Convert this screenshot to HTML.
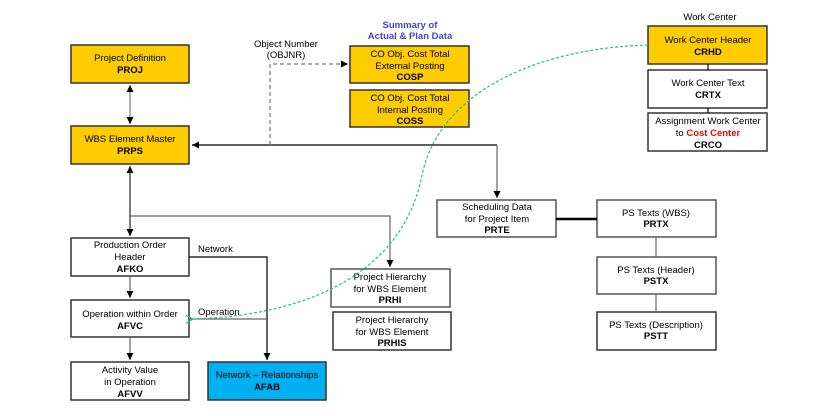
<!DOCTYPE html>
<html><head><style>
body{margin:0;background:#fff;}
svg text{font-family:"Liberation Sans",sans-serif;font-size:9.5px;fill:#000;}
.b{font-weight:bold;}
</style></head><body>
<svg width="818" height="411" viewBox="0 0 818 411" xmlns="http://www.w3.org/2000/svg">
<defs>
<marker id="a" markerWidth="8" markerHeight="8" refX="7" refY="4" orient="auto-start-reverse" markerUnits="userSpaceOnUse"><path d="M0,0.5 L7,4 L0,7.5z" fill="#000"/></marker>
<marker id="g" markerWidth="10" markerHeight="10" refX="1" refY="5" orient="auto" markerUnits="userSpaceOnUse"><path d="M8,1 L1,5 L8,9" fill="none" stroke="#20c090" stroke-width="1.2"/></marker>
</defs>
<g stroke-width="1.5">
<rect x="71" y="45" width="118" height="38" fill="#ffcc00" stroke="#333"/>
<rect x="71" y="126" width="118" height="38" fill="#ffcc00" stroke="#333"/>
<rect x="350" y="46" width="119" height="37" fill="#ffcc00" stroke="#333"/>
<rect x="350" y="90" width="119" height="37" fill="#ffcc00" stroke="#333"/>
<rect x="648" y="26" width="119" height="38" fill="#ffcc00" stroke="#333"/>
<rect x="648" y="70" width="119" height="38" fill="#fff" stroke="#333"/>
<rect x="648" y="113" width="119" height="38" fill="#fff" stroke="#333"/>
<rect x="71" y="238" width="118" height="38" fill="#fff" stroke="#333"/>
<rect x="71" y="300" width="118" height="37" fill="#fff" stroke="#333"/>
<rect x="71" y="362" width="118" height="38" fill="#fff" stroke="#333"/>
<rect x="208" y="362" width="118" height="38" fill="#00b0f0" stroke="#333"/>
<rect x="331" y="269" width="119" height="38" fill="#fff" stroke="#555"/>
<rect x="333" y="312" width="118" height="38" fill="#fff" stroke="#333"/>
<rect x="437" y="200" width="119" height="37" fill="#fff" stroke="#555"/>
<rect x="597" y="200" width="119" height="37" fill="#fff" stroke="#555"/>
<rect x="597" y="257" width="119" height="37" fill="#fff" stroke="#555"/>
<rect x="597" y="312" width="119" height="38" fill="#fff" stroke="#333"/>
</g>
<g fill="none" stroke="#444" stroke-width="1.2">
<line x1="130" y1="85" x2="130" y2="124" marker-start="url(#a)" marker-end="url(#a)" stroke="#777"/>
<line x1="130" y1="166" x2="130" y2="236" marker-start="url(#a)" marker-end="url(#a)" stroke="#222"/>
<polyline points="130,216 390,216 390,267" marker-end="url(#a)" stroke="#666"/>
<line x1="130" y1="276" x2="130" y2="298" marker-end="url(#a)" stroke="#666"/>
<line x1="130" y1="337" x2="130" y2="360" marker-end="url(#a)" stroke="#666"/>
<polyline points="189,257 267,257 267,360" marker-end="url(#a)" stroke="#000"/>
<line x1="189" y1="319" x2="267" y2="319" stroke="#666"/>
<polyline points="497,145 192,145" marker-end="url(#a)" stroke="#000"/>
<polyline points="497,145 497,198" marker-end="url(#a)" stroke="#666"/>
<polyline points="270,145 270,64 348,64" marker-end="url(#a)" stroke="#777" stroke-dasharray="4,3"/>
<line x1="556" y1="219" x2="597" y2="219" stroke="#000" stroke-width="2.5"/>
<line x1="656" y1="237" x2="656" y2="257" stroke="#666"/>
<line x1="656" y1="294" x2="656" y2="312" stroke="#666"/>
<line x1="708" y1="64" x2="708" y2="70" stroke="#000"/>
<line x1="708" y1="108" x2="708" y2="113" stroke="#000"/>
<path d="M648,45 C540,48 440,90 422,175 C405,265 320,315 193,319" stroke="#20c090" stroke-dasharray="3,2" marker-end="url(#g)"/>
</g>
<g text-anchor="middle">
<text x="130" y="61">Project Definition</text><text x="130" y="73" class="b">PROJ</text>
<text x="130" y="142">WBS Element Master</text><text x="130" y="154" class="b">PRPS</text>
<text x="410" y="57">CO Obj. Cost Total</text><text x="410" y="69">External Posting</text><text x="410" y="80" class="b">COSP</text>
<text x="410" y="101">CO Obj. Cost Total</text><text x="410" y="113">Internal Posting</text><text x="410" y="124" class="b">COSS</text>
<text x="410" y="28" class="b" style="fill:#4444dd">Summary of</text><text x="410" y="39" class="b" style="fill:#4444dd">Actual &amp; Plan Data</text>
<text x="286" y="47">Object Number</text><text x="286" y="58">(OBJNR)</text>
<text x="710" y="20">Work Center</text>
<text x="708" y="43">Work Center Header</text><text x="708" y="55" class="b">CRHD</text>
<text x="708" y="86">Work Center Text</text><text x="708" y="98" class="b">CRTX</text>
<text x="708" y="124">Assignment Work Center</text><text x="708" y="136">to <tspan class="b" style="fill:#ff0000">Cost Center</tspan></text><text x="708" y="148" class="b">CRCO</text>
<text x="130" y="248">Production Order</text><text x="130" y="260">Header</text><text x="130" y="272" class="b">AFKO</text>
<text x="130" y="317">Operation within Order</text><text x="130" y="329" class="b">AFVC</text>
<text x="130" y="373">Activity Value</text><text x="130" y="385">in Operation</text><text x="130" y="397" class="b">AFVV</text>
<text x="267" y="378">Network – Relationships</text><text x="267" y="390" class="b">AFAB</text>
<text x="390" y="280">Project Hierarchy</text><text x="390" y="292">for WBS Element</text><text x="390" y="303" class="b">PRHI</text>
<text x="392" y="323">Project Hierarchy</text><text x="392" y="335">for WBS Element</text><text x="392" y="346" class="b">PRHIS</text>
<text x="497" y="210">Scheduling Data</text><text x="497" y="222">for Project Item</text><text x="497" y="233" class="b">PRTE</text>
<text x="656" y="216">PS Texts (WBS)</text><text x="656" y="227" class="b">PRTX</text>
<text x="656" y="273">PS Texts (Header)</text><text x="656" y="284" class="b">PSTX</text>
<text x="656" y="328">PS Texts (Description)</text><text x="656" y="339" class="b">PSTT</text>
</g>
<text x="198" y="252">Network</text>
<text x="198" y="315">Operation</text>
</svg>
</body></html>
